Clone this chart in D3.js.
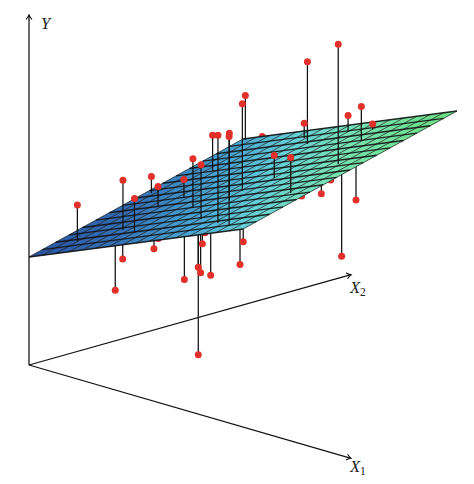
<!DOCTYPE html>
<html>
<head>
<meta charset="utf-8">
<script src="https://cdn.jsdelivr.net/npm/d3@7"></script>
<style>
  html, body { margin: 0; padding: 0; background: #fff; }
  svg { display: block; }
  text { font-family: "Liberation Serif", serif; fill: #222; }
</style>
</head>
<body>
<svg id="chart"></svg>
<script>
var x1Values = [.119, .276, .369, .039, .235, .294, .449, .632, .169, .780, .881, .594, .570, .025, .364, .450, .861, .566, .736, .683, .625, .892,
  .25, .2, .4, .5, .6, .35, .45, .7, .55, .8, .9, .9, .9, .8, .7, .8, .09, .5, .35];
var x2Values = [.107, .163, .124, .533, .368, .430, .317, .172, .689, .103, .054, .342, .427, .986, .922, .851, .584, .925, .817, .923, .521, .331,
  .153, .238, .184, .226, .191, .441, .352, .11, .299, .186, .101, .561, .628, .566, .574, .61, 1, .322, .254];
var yValues = [1.61, 1.92, 1.82, 1.59, 1.71, 1.78, 2.15, 2.29, 1.99, 2.72, 2.80, 2.48, 2.71, 2.12, 2.09, 2.80, 3.39, 2.29, 2.55, 2.28, 2.17, 2.43,
  .81, 1.04, 1.30, 1.03, .36, .93, .99, 1.58, 1.06, 1.39, 1.73, 1.31, 1.83, 1.87, 1.78, 1.98, 1.74, 1.44, 1.33];

// fitted plane Y = b0 + b1 X1 + b2 X2
var coefs = [1.08, .9, .58];
var gridCount = 16;
var axisEnds = [1.505, 1.505, 3.5];
var colorStops = [0, .4, .75, 1, 1.3, 1.75];
var colorValues = ["#2a52a0", "#3572b8", "#4aa8d4", "#66d0d8", "#78e4b4", "#68de80"];

var width = 474, height = 484;

var svg = d3.select("svg#chart")
  .attr("width", width)
  .attr("height", height);

// oblique projection: both ground axes run right, X1 falls and X2 rises
var sx = d3.scaleLinear().domain([0, 1]).range([29, 243]);
var sx1 = d3.scaleLinear().domain([0, 1]).range([0, 62]);
var sx2 = d3.scaleLinear().domain([0, 1]).range([0, -60]);
var sy = d3.scaleLinear().domain([0, 1]).range([365, 265]);
var color = d3.scaleLinear().domain(colorStops).range(colorValues);

function project(a, b, y) {
  return [sx(a + b), sy(y) + sx1(a) + sx2(b)];
}

function fitted(a, b) {
  return coefs[0] + coefs[1] * a + coefs[2] * b;
}

function onPlane(a, b) {
  return project(a, b, fitted(a, b));
}

var points = x1Values.map(function(a, i) {
  return { a: a, b: x2Values[i], y: yValues[i] };
});
var below = points.filter(function(d) { return d.y < fitted(d.a, d.b); });
var above = points.filter(function(d) { return d.y >= fitted(d.a, d.b); });

function drawPoints(data) {
  var g = svg.append("g");
  g.selectAll("line")
    .data(data)
    .enter()
    .append("line")
    .attr("x1", function(d) { return project(d.a, d.b, d.y)[0]; })
    .attr("y1", function(d) { return project(d.a, d.b, d.y)[1]; })
    .attr("x2", function(d) { return onPlane(d.a, d.b)[0]; })
    .attr("y2", function(d) { return onPlane(d.a, d.b)[1]; })
    .attr("stroke", "#111")
    .attr("stroke-width", 1.25);
  g.selectAll("circle")
    .data(data)
    .enter()
    .append("circle")
    .attr("cx", function(d) { return project(d.a, d.b, d.y)[0]; })
    .attr("cy", function(d) { return project(d.a, d.b, d.y)[1]; })
    .attr("r", 3.5)
    .attr("fill", "#e3302a");
}

// axes
var arrowTips = [project(axisEnds[0], 0, 0), project(0, axisEnds[1], 0), project(0, 0, axisEnds[2])];
var origin = project(0, 0, 0);
var axes = svg.append("g");
axes.selectAll("line")
  .data(arrowTips)
  .enter()
  .append("line")
  .attr("x1", origin[0])
  .attr("y1", origin[1])
  .attr("x2", function(d) { return d[0]; })
  .attr("y2", function(d) { return d[1]; })
  .attr("stroke", "#111")
  .attr("stroke-width", 1.25);
axes.selectAll("path")
  .data(arrowTips)
  .enter()
  .append("path")
  .attr("d", "M-4.5 -3 Q-2 -0.8 0 0 Q-2 0.8 -4.5 3")
  .attr("fill", "none")
  .attr("stroke", "#111")
  .attr("stroke-width", 1.1)
  .attr("transform", function(d) {
    var angle = Math.atan2(d[1] - origin[1], d[0] - origin[0]) * 180 / Math.PI;
    return "translate(" + d[0] + " " + d[1] + ") rotate(" + angle + ")";
  });

drawPoints(below);

// plane made of small quads, grid lines drawn over them
var cells = [];
d3.range(gridCount).forEach(function(i) {
  d3.range(gridCount).forEach(function(j) {
    cells.push({ a: i / gridCount, b: j / gridCount });
  });
});
var step = 1 / gridCount;
var plane = svg.append("g");

plane.selectAll("path")
  .data(cells)
  .enter()
  .append("path")
  .attr("d", function(d) {
    var corners = [[d.a, d.b], [d.a + step, d.b], [d.a + step, d.b + step], [d.a, d.b + step]];
    return d3.line()(corners.map(function(c) { return onPlane(c[0], c[1]); })) + "Z";
  })
  .attr("fill", function(d) { return color(d.a + step / 2 + .75 * (d.b + step / 2)); })
  .attr("stroke", function(d) { return color(d.a + step / 2 + .75 * (d.b + step / 2)); })
  .attr("stroke-width", .4);

var ticks = d3.range(gridCount + 1).map(function(i) { return i / gridCount; });

plane.selectAll("line.along")
  .data(ticks)
  .enter()
  .append("line")
  .attr("class", "along")
  .attr("x1", function(t) { return onPlane(0, t)[0]; })
  .attr("y1", function(t) { return onPlane(0, t)[1]; })
  .attr("x2", function(t) { return onPlane(1, t)[0]; })
  .attr("y2", function(t) { return onPlane(1, t)[1]; })
  .attr("stroke", "#111")
  .attr("stroke-opacity", .9)
  .attr("stroke-width", 1.5);

plane.selectAll("line.across")
  .data(ticks)
  .enter()
  .append("line")
  .attr("class", "across")
  .attr("x1", function(t) { return onPlane(t, 0)[0]; })
  .attr("y1", function(t) { return onPlane(t, 0)[1]; })
  .attr("x2", function(t) { return onPlane(t, 1)[0]; })
  .attr("y2", function(t) { return onPlane(t, 1)[1]; })
  .attr("stroke", "#111")
  .attr("stroke-opacity", .75)
  .attr("stroke-width", .9);

drawPoints(above);

// axis labels
function label(x, y, name, sub) {
  var t = svg.append("text")
    .attr("x", x)
    .attr("y", y)
    .attr("font-size", 16.5)
    .attr("font-style", "italic")
    .text(name);
  if (sub) {
    t.append("tspan")
      .attr("dy", 3)
      .attr("font-size", 11.5)
      .attr("font-style", "normal")
      .text(sub);
  }
}
label(41, 29, "Y");
label(350, 293, "X", "2");
label(350, 472, "X", "1");
</script>
</body>
</html>
